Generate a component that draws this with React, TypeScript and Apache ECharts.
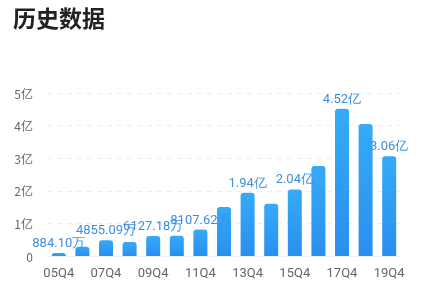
import React, { useEffect, useRef } from "react";
import * as echarts from "echarts";

const categories = ["05Q4","06Q4","07Q4","08Q4","09Q4","10Q4","11Q4","12Q4","13Q4","14Q4","15Q4","16Q4","17Q4","18Q4","19Q4"];
// values in 万
const values = [884.10, 2800, 4855.09, 4300, 6127.18, 6200, 8107.62, 15000, 19400, 16000, 20400, 27600, 45200, 40500, 30600];
const labeledIndexes = [0, 2, 4, 6, 8, 10, 12, 14];
const yTicks = [0, 10000, 20000, 30000, 40000, 50000];

function fmtValue(v: number): string {
  if (v >= 10000) return (v / 10000).toFixed(2) + "亿";
  return v.toFixed(2) + "万";
}

export default function App() {
  const ref = useRef<HTMLDivElement>(null);
  useEffect(() => {
    if (!ref.current) return;
    const chart = echarts.init(ref.current, undefined, { renderer: "svg" });
    chart.setOption({
      animation: false,
      title: {
        text: "历史数据",
        left: 8,
        top: 0,
        textStyle: { fontSize: 23, fontWeight: "bold", color: "#222", fontFamily: "Noto Sans CJK SC" },
      },
      grid: { left: 47, right: 31, top: 93, bottom: 35 },
      xAxis: {
        type: "category",
        data: categories,
        axisTick: { show: false },
        axisLine: { show: true, lineStyle: { color: "#f0f0f0" } },
        axisLabel: { interval: 1, color: "#666", fontSize: 13, margin: 10, fontFamily: "Roboto" },
      },
      yAxis: {
        type: "value",
        min: yTicks[0],
        max: yTicks[yTicks.length - 1],
        interval: 10000,
        axisLine: { show: false },
        axisTick: { show: false },
        splitLine: { lineStyle: { type: [5, 5], color: "#eeeeee" } },
        axisLabel: {
          color: "#666",
          fontSize: 12,
          margin: 14,
          fontFamily: "Noto Sans CJK SC",
          formatter: (v: number) => (v === 0 ? "0" : v / 10000 + "亿"),
        },
      },
      series: [
        {
          type: "bar",
          barWidth: 14,
          data: values.map((v, i) => ({
            value: v,
            label: { show: labeledIndexes.includes(i) },
          })),
          itemStyle: {
            borderRadius: [3, 3, 0, 0],
            color: new echarts.graphic.LinearGradient(0, 0, 0, 1, [
              { offset: 0, color: "#35abf6" },
              { offset: 1, color: "#2a8ff0" },
            ]),
          },
          label: {
            position: "top",
            distance: 4,
            color: "#3c8fe0",
            fontSize: 13,
            fontFamily: "Roboto",
            formatter: (p: any) => fmtValue(p.value),
          },
        },
      ],
    });
    return () => chart.dispose();
  }, []);
  return <div ref={ref} style={{ position: "fixed", left: 0, top: 0, width: 432, height: 291 }} />;
}
